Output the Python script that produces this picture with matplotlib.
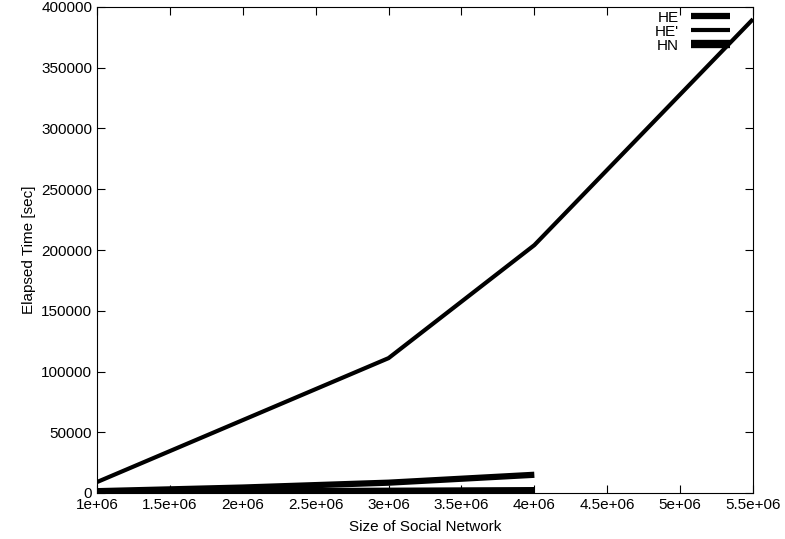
import matplotlib
matplotlib.use("Agg")
import matplotlib.pyplot as plt

plt.rcParams['font.family'] = ['Liberation Sans', 'DejaVu Sans']

x_he = [1e6, 2e6, 3e6, 4e6]
y_he = [1500, 4500, 8500, 15000]
x_he2 = [1e6, 2e6, 3e6, 4e6, 5.5e6]
y_he2 = [9000, 60000, 111000, 204000, 390000]
x_hn = [1e6, 2e6, 3e6, 4e6]
y_hn = [300, 600, 1000, 1500]

fig = plt.figure(figsize=(7.85, 5.39), dpi=100)
ax = fig.add_axes([97/785, 46/539, 656/785, 486/539])
ax.plot(x_he, y_he, color='black', lw=4.5, label='HE', solid_capstyle='butt')
ax.plot(x_he2, y_he2, color='black', lw=3, label="HE'", solid_capstyle='butt')
ax.plot(x_hn, y_hn, color='black', lw=6, label='HN', solid_capstyle='butt')

ax.set_xlim(1e6, 5.5e6)
ax.set_ylim(0, 400000)
xt = [1e6 + 0.5e6 * i for i in range(10)]
ax.set_xticks(xt)
ax.set_xticklabels(['1e+06', '1.5e+06', '2e+06', '2.5e+06', '3e+06', '3.5e+06',
                    '4e+06', '4.5e+06', '5e+06', '5.5e+06'])
ax.set_yticks(range(0, 400001, 50000))
ax.tick_params(direction='in', top=True, right=True, labelsize=11, length=6)
ax.set_xlabel('Size of Social Network', fontsize=11, labelpad=6)
ax.set_ylabel('Elapsed Time [sec]', fontsize=11)
ax.legend(loc='upper right', frameon=False, markerfirst=False, handlelength=2.6,
          fontsize=11, labelspacing=0.0, borderaxespad=0.0,
          bbox_to_anchor=(0.975, 1.005))
fig.savefig('out.png')
